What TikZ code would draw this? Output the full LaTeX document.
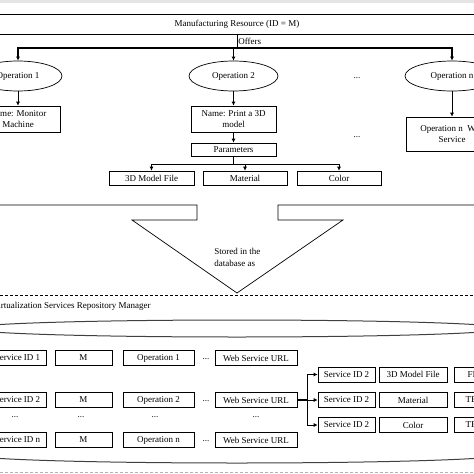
\documentclass[tikz,border=0pt]{standalone}
\usepackage{fontspec}
\setmainfont{Liberation Serif}
\usetikzlibrary{shapes.geometric, arrows.meta, positioning}

\begin{document}
\begin{tikzpicture}[x=1pt, y=-1pt, >={Latex[length=4pt,width=4pt]}, line width=0.7pt, every node/.style={font=\fontsize{9}{11.5}\selectfont}]
\tikzstyle{oper} = [ellipse, draw, minimum width=88pt, minimum height=30pt, inner sep=0pt]
\tikzstyle{block} = [rectangle, draw, inner sep=0pt, align=center]
\tikzstyle{cell} = [rectangle, draw, minimum height=15pt, inner sep=0pt]
\tikzstyle{link} = [line width=1.2pt]

\useasboundingbox (0,0) rectangle (474,474);
\clip (0,0) rectangle (474,474);
\fill[black!10] (0,0) rectangle (474,3);

\node[block, minimum width=500pt, minimum height=20pt] (res) at (237,24) {Manufacturing Resource (ID = M)};
\coordinate (offer) at (237,48);
\node[anchor=west, inner sep=1pt] (offers) at (237,41) {Offers};

\node[oper] (op1) at (18,76) {Operation 1};
\node[oper, minimum width=89pt] (op2) at (233.5,76) {Operation 2};
\node[oper, minimum width=94pt] (opn) at (452,76) {Operation n};
\node (dotsa) at (357,78) {...};

\node[block, minimum width=84pt, minimum height=26pt] (nm1) at (18,119) {Name: Monitor\\Machine};
\node[block, minimum width=85pt, minimum height=26pt] (nm2) at (233.5,119) {Name: Print a 3D\\model};
\node[block, minimum width=92pt, minimum height=34pt] (ws) at (452,134) {Operation n \ Web\\Service};
\node (dotsb) at (357,137) {...};

\node[block, minimum width=85pt, minimum height=13pt] (par) at (233.5,149.5) {Parameters};
\coordinate (pj) at (233.5,164);
\node[block, minimum width=85pt, minimum height=14pt] (pfile) at (151.5,178) {3D Model File};
\node[block, minimum width=84pt, minimum height=14pt] (pmat) at (245,178) {Material};
\node[block, minimum width=84pt, minimum height=14pt] (pcol) at (339,178) {Color};

\draw (res) -- (offer);
\draw[->, link] (offer) -| (op1);
\draw[->, link] (offer) -| (op2);
\draw[->, link] (offer) -| (opn);
\draw[->] (op1) -- (nm1);
\draw[->] (op2) -- (nm2);
\draw[->] (opn) -- (ws);
\draw[->] (nm2) -- (par);
\draw (par) -- (pj);
\draw[->] (pj) -| (pfile);
\draw[->] (pj) -| (pmat);
\draw[->] (pj) -| (pcol);

\draw (-5,205) -- (197,205) -- (197,220) -- (132,220) -- (237,293) -- (343,220) -- (278,220) -- (278,205) -- (480,205);
\node[anchor=west, align=left, inner sep=0pt] (stored) at (214,257.5) {Stored in the\\database as};

\draw[dash pattern=on 3pt off 2pt] (0,295) -- (474,295);
\node[anchor=west, inner sep=0pt] (vsrm) at (-8,306) {Virtualization Services Repository Manager};

\draw[line width=1pt, black!75] (237,328.5) ellipse [x radius=268pt, y radius=8.5pt];
\draw[line width=1pt, black!75] (237,454.5) ++(-268pt,0pt) arc [start angle=180, end angle=360, x radius=268pt, y radius=8.5pt];

\node[cell, minimum width=57pt] (sid1) at (17.5,358) {Service ID 1};
\node[cell, minimum width=57pt] (m1) at (83.5,358) {M};
\node[cell, minimum width=71pt] (o1) at (158.5,358) {Operation 1};
\node (d1) at (206,359) {...};
\node[cell, minimum width=82pt] (url1) at (256,358) {Web Service URL};

\node[cell, minimum width=57pt] (sid2) at (17.5,400) {Service ID 2};
\node[cell, minimum width=57pt] (m2) at (83.5,400) {M};
\node[cell, minimum width=71pt] (o2) at (158.5,400) {Operation 2};
\node (d2) at (206,401) {...};
\node[cell, minimum width=82pt] (url2) at (256,400) {Web Service URL};

\node (vd1) at (15,417) {...};
\node (vd2) at (81,417) {...};
\node (vd3) at (155,417) {...};
\node (vd4) at (256,417) {...};

\node[cell, minimum width=57pt] (sidn) at (17.5,440) {Service ID n};
\node[cell, minimum width=57pt] (mn) at (83.5,440) {M};
\node[cell, minimum width=71pt] (on) at (158.5,440) {Operation n};
\node (dn) at (206,441) {...};
\node[cell, minimum width=82pt] (urln) at (256,440) {Web Service URL};

\coordinate (sj) at (307,400);
\node[cell, minimum width=57pt] (sa) at (346.5,374.5) {Service ID 2};
\node[cell, minimum width=68pt] (fa) at (413,374.5) {3D Model File};
\node[cell, minimum width=46pt] (ta) at (477,374.5) {FILE};
\node[cell, minimum width=57pt] (sb) at (346.5,400) {Service ID 2};
\node[cell, minimum width=68pt] (fb) at (413,400) {Material};
\node[cell, minimum width=46pt] (tb) at (477,400) {TEXT};
\node[cell, minimum width=57pt] (sc) at (346.5,425) {Service ID 2};
\node[cell, minimum width=68pt] (fc) at (413,425) {Color};
\node[cell, minimum width=46pt] (tc) at (477,425) {TEXT};

\draw[link] (url2) -- (sj);
\draw[->] (sj) |- (sa);
\draw[->] (sj) |- (sb);
\draw[->] (sj) |- (sc);

\draw[black!30, dash pattern=on 3pt off 2pt] (0,472) -- (474,472);

\end{tikzpicture}
\end{document}
